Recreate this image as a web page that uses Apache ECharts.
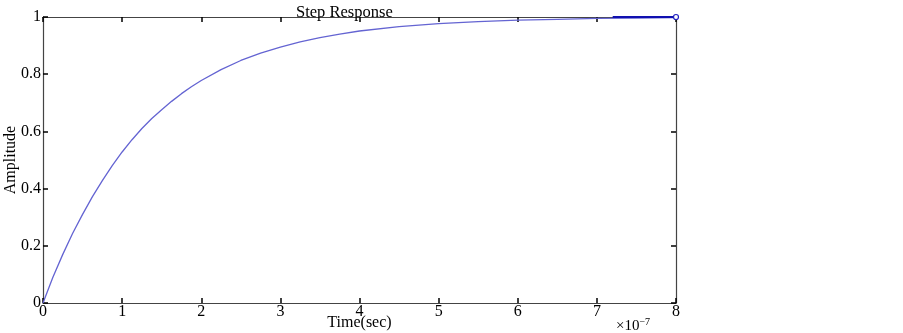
<!DOCTYPE html>
<html><head><meta charset="utf-8">
<script src="https://cdn.jsdelivr.net/npm/echarts@6/dist/echarts.min.js"></script>
<style>html,body{margin:0;padding:0;background:#fff}#c{width:903px;height:333px}</style>
</head><body><div id="c"></div>
<script>
var times = [0, 0.125, 0.25, 0.375, 0.5, 0.625, 0.75, 0.875, 1, 1.125, 1.25, 1.375, 1.5, 1.625, 1.75, 1.875, 2, 2.25, 2.5, 2.75, 3, 3.25, 3.5, 3.75, 4, 4.5, 5, 5.5, 6, 6.5, 7, 7.5, 8];
var amplitude = [0, 0.09, 0.17, 0.244, 0.31, 0.372, 0.428, 0.48, 0.528, 0.571, 0.61, 0.645, 0.676, 0.705, 0.732, 0.756, 0.778, 0.816, 0.848, 0.874, 0.895, 0.913, 0.928, 0.94, 0.951, 0.966, 0.977, 0.984, 0.989, 0.992, 0.995, 0.996, 0.998];
var titleText = 'Step Response';
var xName = 'Time(sec)';
var yName = 'Amplitude';
var expText = '×10';
var expSup = '−7';

var font = 'Liberation Serif';
var data = times.map(function(t, i){ return [t, amplitude[i]]; });
var chart = echarts.init(document.getElementById('c'));
var tick = {show:true, inside:true, length:5, lineStyle:{color:'#000', width:1.5}};
var line = {show:true, onZero:false, lineStyle:{color:'#444', width:1.2}};
chart.setOption({
  animation:false,
  title:{text:titleText, left:291, top:-1,
    textStyle:{fontFamily:font, fontSize:16.5, fontWeight:'normal', color:'#000'}},
  grid:{left:43, right:227, top:17, bottom:30, containLabel:false, outerBoundsMode:'none'},
  xAxis:[
    {type:'value', min:0, max:8, interval:1, position:'bottom',
     axisLine:line, axisTick:tick, splitLine:{show:false},
     axisLabel:{fontFamily:font, fontSize:16, color:'#000', margin:1},
     name:xName, nameLocation:'middle', nameGap:12, nameMoveOverlap:false,
     nameTextStyle:{fontFamily:font, fontSize:16, color:'#000'}},
    {type:'value', min:0, max:8, interval:1, position:'top',
     axisLine:line, axisTick:tick, axisLabel:{show:false}, splitLine:{show:false}}
  ],
  yAxis:[
    {type:'value', min:0, max:1, interval:0.2, position:'left',
     axisLine:line, axisTick:tick, splitLine:{show:false},
     axisLabel:{fontFamily:font, fontSize:16, color:'#000', margin:2},
     name:yName, nameLocation:'middle', nameGap:24, nameRotate:90, nameMoveOverlap:false,
     nameTextStyle:{fontFamily:font, fontSize:16, color:'#000'}},
    {type:'value', min:0, max:1, interval:0.2, position:'right',
     axisLine:line, axisTick:tick, axisLabel:{show:false}, splitLine:{show:false}}
  ],
  graphic:[{type:'text', left:616, top:317,
    style:{text:'{a|'+expText+'}{b|'+expSup+'}', rich:{
      a:{fontFamily:font, fontSize:15, fill:'#000'},
      b:{fontFamily:font, fontSize:10, fill:'#000', verticalAlign:'top', padding:[0,0,8,0]}}}}],
  series:[{type:'line', data:data, smooth:false, showSymbol:false,
    lineStyle:{color:'#6464d2', width:1.3},
    markPoint:{symbol:'circle', symbolSize:5, data:[{coord:[8,1]}],
      itemStyle:{color:'#fff', borderColor:'#2020c0', borderWidth:1.2}, label:{show:false}}
  },{type:'line', data:[[7.2,1],[8,1]], showSymbol:false, lineStyle:{color:'#1010b0', width:2}}]
});
</script></body></html>
